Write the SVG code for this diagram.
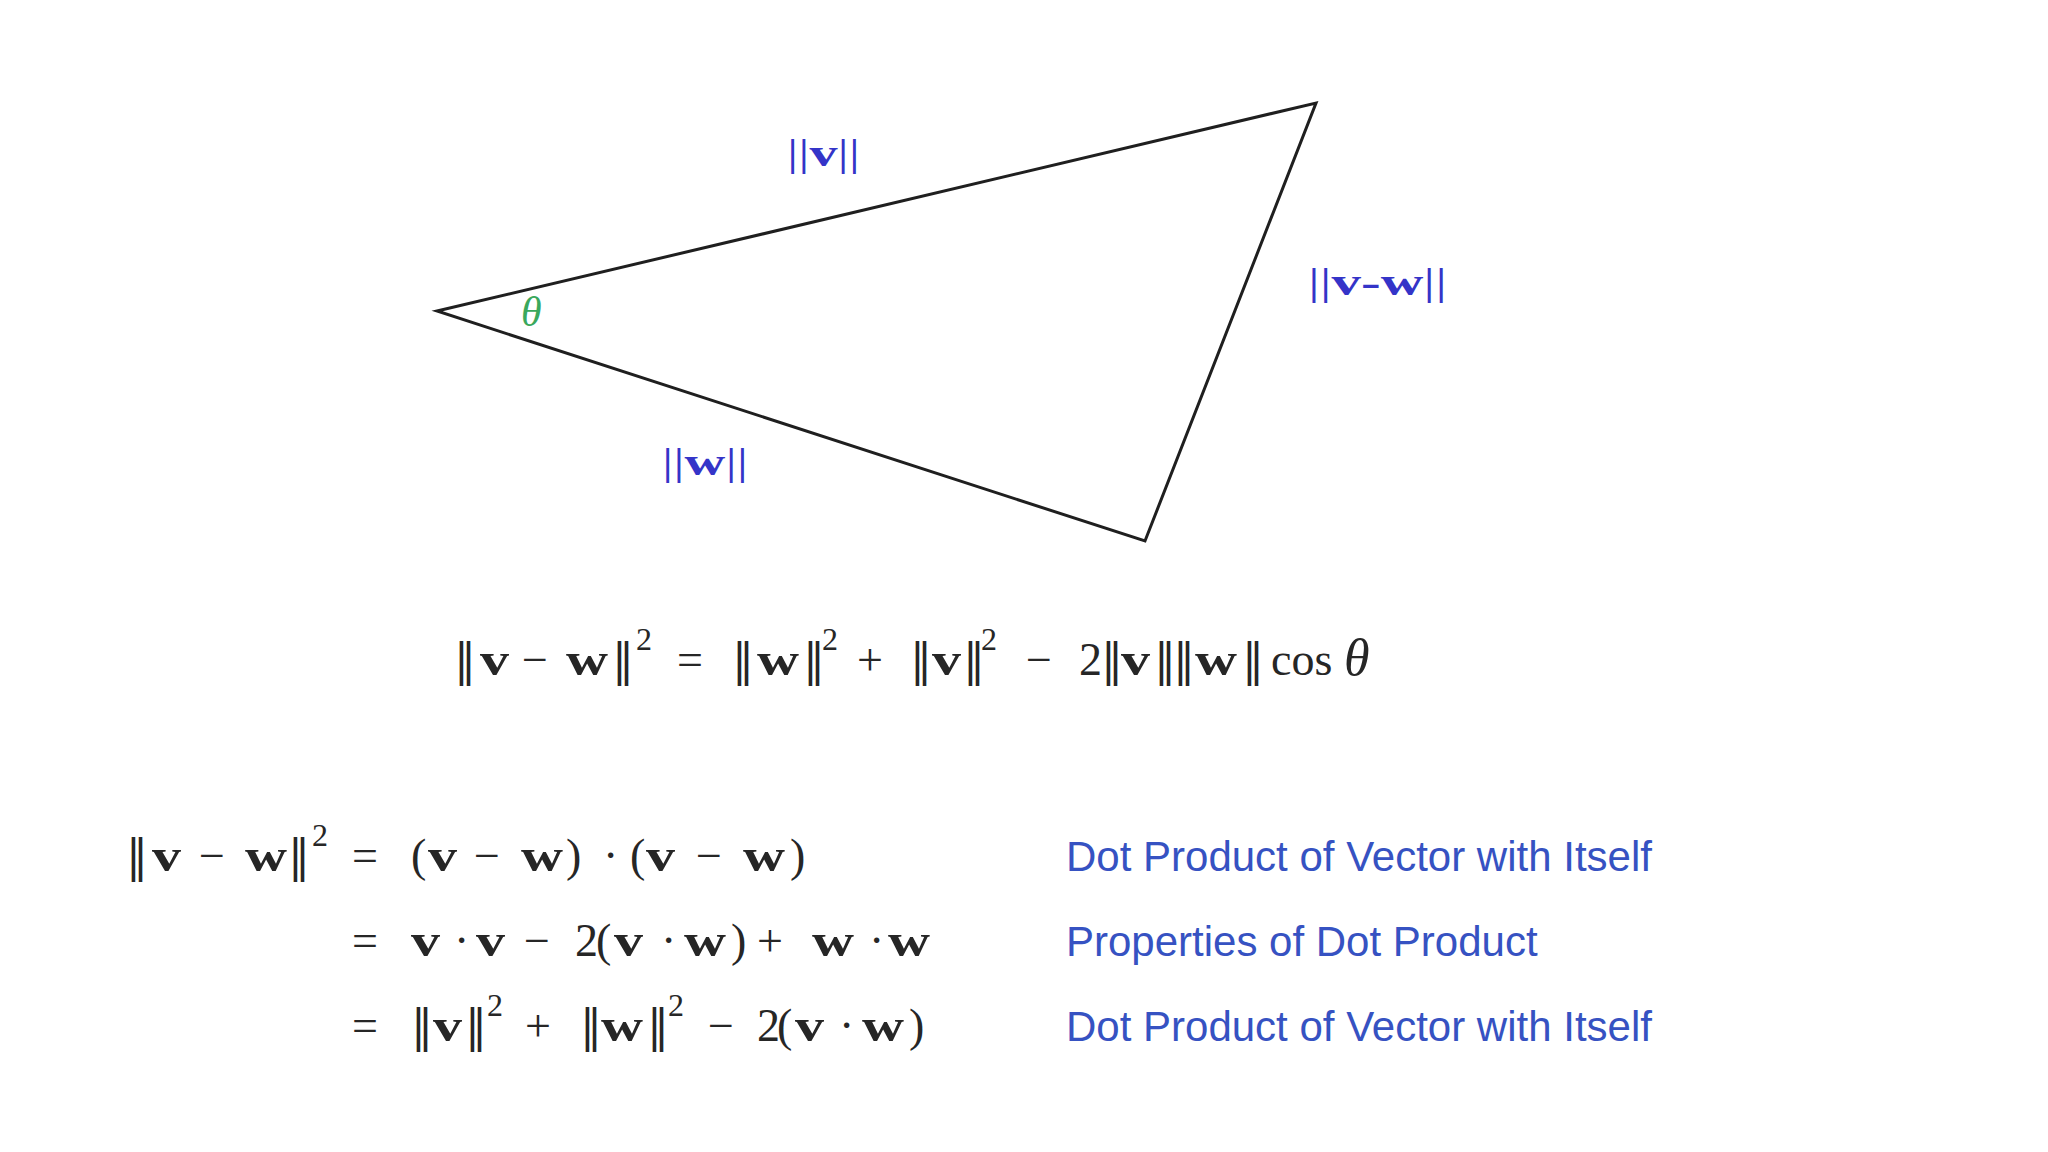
<svg xmlns="http://www.w3.org/2000/svg" width="2048" height="1152" viewBox="0 0 2048 1152">
<style>
.m{font-family:"Liberation Serif","DejaVu Serif",serif;font-size:46px;fill:#262626}
.b{font-weight:bold;font-size:47px}
.s{font-size:32px}
.n{font-family:"DejaVu Serif","Liberation Serif",serif;font-size:44px;font-weight:normal}
.lab{font-family:"Liberation Serif","DejaVu Serif",serif;font-size:38px;fill:#3434c8}
.lab .bv{font-weight:bold}
.note{font-family:"Liberation Sans",Arial,sans-serif;font-size:42px;fill:#3652c2}
</style>
<rect width="2048" height="1152" fill="#ffffff"/>
<g id="triangle">
<polygon points="437,311 1316,103 1145,541" fill="none" stroke="#1f1f1f" stroke-width="3" stroke-linejoin="miter"/>
</g>
<g id="label-v"><text class="lab" x="787" y="166" textLength="73" lengthAdjust="spacingAndGlyphs">||<tspan class="bv">v</tspan>||</text></g>
<g id="label-vw"><text class="lab" x="1308" y="295" textLength="139" lengthAdjust="spacingAndGlyphs">||<tspan class="bv">v-w</tspan>||</text></g>
<g id="label-w"><text class="lab" x="662" y="475" textLength="86" lengthAdjust="spacingAndGlyphs">||<tspan class="bv">w</tspan>||</text></g>
<g id="label-theta"><text x="521" y="326" font-family="Liberation Serif,DejaVu Serif,serif" font-style="italic" font-size="42" fill="#3aa85c">θ</text></g>
<g id="law-of-cosines">
<text class="m" y="675"><tspan class="n" x="454">‖</tspan><tspan class="b" x="480" textLength="29" lengthAdjust="spacingAndGlyphs">v</tspan><tspan x="522">−</tspan><tspan class="b" x="566" textLength="42" lengthAdjust="spacingAndGlyphs">w</tspan><tspan class="n" x="612">‖</tspan><tspan class="s" x="636" dy="-25">2</tspan><tspan x="677" dy="25">=</tspan><tspan class="n" x="732">‖</tspan><tspan class="b" x="757" textLength="42" lengthAdjust="spacingAndGlyphs">w</tspan><tspan class="n" x="803">‖</tspan><tspan class="s" x="822" dy="-25">2</tspan><tspan x="857" dy="25">+</tspan><tspan class="n" x="910">‖</tspan><tspan class="b" x="932" textLength="29" lengthAdjust="spacingAndGlyphs">v</tspan><tspan class="n" x="963">‖</tspan><tspan class="s" x="981" dy="-25">2</tspan><tspan x="1026" dy="25">−</tspan><tspan x="1079">2</tspan><tspan class="n" x="1101">‖</tspan><tspan class="b" x="1121" textLength="29" lengthAdjust="spacingAndGlyphs">v</tspan><tspan class="n" x="1154">‖</tspan><tspan class="n" x="1173">‖</tspan><tspan class="b" x="1195" textLength="42" lengthAdjust="spacingAndGlyphs">w</tspan><tspan class="n" x="1242">‖</tspan><tspan x="1271">cos</tspan><tspan x="1344" font-style="italic" font-size="52">θ</tspan></text>
</g>
<g id="derivation">
<text class="m" y="871"><tspan class="n" x="126">‖</tspan><tspan class="b" x="152" textLength="29" lengthAdjust="spacingAndGlyphs">v</tspan><tspan x="199">−</tspan><tspan class="b" x="245" textLength="42" lengthAdjust="spacingAndGlyphs">w</tspan><tspan class="n" x="288">‖</tspan><tspan class="s" x="312" dy="-25">2</tspan><tspan x="352" dy="25">=</tspan><tspan x="411">(</tspan><tspan class="b" x="428" textLength="29" lengthAdjust="spacingAndGlyphs">v</tspan><tspan x="474">−</tspan><tspan class="b" x="521" textLength="42" lengthAdjust="spacingAndGlyphs">w</tspan><tspan x="566">)</tspan><tspan x="603">·</tspan><tspan x="630">(</tspan><tspan class="b" x="646" textLength="29" lengthAdjust="spacingAndGlyphs">v</tspan><tspan x="696">−</tspan><tspan class="b" x="743" textLength="42" lengthAdjust="spacingAndGlyphs">w</tspan><tspan x="790">)</tspan></text>
<text class="m" y="956"><tspan x="352">=</tspan><tspan class="b" x="411" textLength="29" lengthAdjust="spacingAndGlyphs">v</tspan><tspan x="454">·</tspan><tspan class="b" x="476" textLength="29" lengthAdjust="spacingAndGlyphs">v</tspan><tspan x="524">−</tspan><tspan x="575">2</tspan><tspan x="596">(</tspan><tspan class="b" x="614" textLength="29" lengthAdjust="spacingAndGlyphs">v</tspan><tspan x="661">·</tspan><tspan class="b" x="684" textLength="42" lengthAdjust="spacingAndGlyphs">w</tspan><tspan x="731">)</tspan><tspan x="757">+</tspan><tspan class="b" x="812" textLength="42" lengthAdjust="spacingAndGlyphs">w</tspan><tspan x="869">·</tspan><tspan class="b" x="888" textLength="42" lengthAdjust="spacingAndGlyphs">w</tspan></text>
<text class="m" y="1041"><tspan x="352">=</tspan><tspan class="n" x="411">‖</tspan><tspan class="b" x="433" textLength="29" lengthAdjust="spacingAndGlyphs">v</tspan><tspan class="n" x="465">‖</tspan><tspan class="s" x="487" dy="-25">2</tspan><tspan x="525" dy="25">+</tspan><tspan class="n" x="580">‖</tspan><tspan class="b" x="601" textLength="42" lengthAdjust="spacingAndGlyphs">w</tspan><tspan class="n" x="647">‖</tspan><tspan class="s" x="668" dy="-25">2</tspan><tspan x="708" dy="25">−</tspan><tspan x="757">2</tspan><tspan x="777">(</tspan><tspan class="b" x="795" textLength="29" lengthAdjust="spacingAndGlyphs">v</tspan><tspan x="839">·</tspan><tspan class="b" x="862" textLength="42" lengthAdjust="spacingAndGlyphs">w</tspan><tspan x="909">)</tspan></text>
</g>
<g id="notes">
<text class="note" x="1066" y="871">Dot Product of Vector with Itself</text>
<text class="note" x="1066" y="956">Properties of Dot Product</text>
<text class="note" x="1066" y="1041">Dot Product of Vector with Itself</text>
</g>
<g id="connectors"></g>
</svg>
